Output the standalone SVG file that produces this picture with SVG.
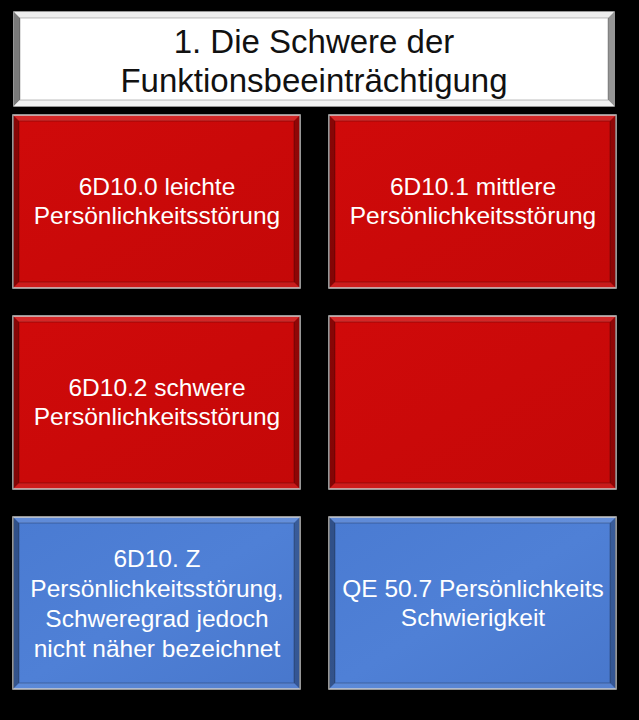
<svg xmlns="http://www.w3.org/2000/svg" width="639" height="720" viewBox="0 0 639 720">
<defs>
<linearGradient id="gRed" x1="0" y1="0" x2="1" y2="1">
<stop offset="0" stop-color="#D00A0A"/><stop offset="1" stop-color="#C40808"/>
</linearGradient>
<linearGradient id="gBlue" x1="0" y1="0" x2="1" y2="1">
<stop offset="0" stop-color="#4A7BD2"/><stop offset="0.5" stop-color="#4F80D6"/><stop offset="1" stop-color="#4877CC"/>
</linearGradient>
<style>
.outer{stroke:#C8C8C8;stroke-width:1.5}
.top{fill:#ffffff;fill-opacity:0.12}
.bot{fill:#ffffff;fill-opacity:0.08}
.lft{fill:#000000;fill-opacity:0.35}
.rgt{fill:#000000;fill-opacity:0.28}
.inner{fill:none;stroke:#000;stroke-opacity:0.25;stroke-width:1}
.t{font-family:"Liberation Sans",Arial,sans-serif;font-size:24.5px;fill:#FFFFFF;text-anchor:middle}
.tt{font-family:"Liberation Sans",Arial,sans-serif;font-size:33px;fill:#111111;text-anchor:middle}
</style>
</defs>
<rect width="639" height="720" fill="#000"/>

<g id="title">
<rect x="14" y="12" width="600" height="94" fill="#FFFFFF" class="outer"/>
<polygon points="14,12 614,12 608,18 20,18" fill="#EDEDED"/>
<polygon points="14,12 20,18 20,100 14,106" fill="#7A7A7A"/>
<polygon points="614,12 614,106 608,100 608,18" fill="#959595"/>
<polygon points="14,106 20,100 608,100 614,106" fill="#F2F2F2"/>
<rect x="20" y="18" width="588" height="82" class="inner" stroke="#999"/>
<text class="tt" x="314" y="53">1. Die Schwere der</text>
<text class="tt" x="314" y="92">Funktionsbeeinträchtigung</text>
</g>

<g id="n1">
<rect x="13" y="115" width="287" height="173" fill="url(#gRed)" class="outer"/>
<polygon points="13,115 300,115 294,121 19,121" class="top"/>
<polygon points="13,115 19,121 19,282 13,288" class="lft"/>
<polygon points="300,115 300,288 294,282 294,121" class="rgt"/>
<polygon points="13,288 19,282 294,282 300,288" class="bot"/>
<rect x="19" y="121" width="275" height="161" class="inner"/>
<text class="t" x="157" y="195">6D10.0 leichte</text>
<text class="t" x="157" y="224">Persönlichkeitsstörung</text>
</g>

<g id="n2">
<rect x="329" y="115" width="287" height="173" fill="url(#gRed)" class="outer"/>
<polygon points="329,115 616,115 610,121 335,121" class="top"/>
<polygon points="329,115 335,121 335,282 329,288" class="lft"/>
<polygon points="616,115 616,288 610,282 610,121" class="rgt"/>
<polygon points="329,288 335,282 610,282 616,288" class="bot"/>
<rect x="335" y="121" width="275" height="161" class="inner"/>
<text class="t" x="473" y="195">6D10.1 mittlere</text>
<text class="t" x="473" y="224">Persönlichkeitsstörung</text>
</g>

<g id="n3">
<rect x="13" y="316" width="287" height="173" fill="url(#gRed)" class="outer"/>
<polygon points="13,316 300,316 294,322 19,322" class="top"/>
<polygon points="13,316 19,322 19,483 13,489" class="lft"/>
<polygon points="300,316 300,489 294,483 294,322" class="rgt"/>
<polygon points="13,489 19,483 294,483 300,489" class="bot"/>
<rect x="19" y="322" width="275" height="161" class="inner"/>
<text class="t" x="157" y="396">6D10.2 schwere</text>
<text class="t" x="157" y="425">Persönlichkeitsstörung</text>
</g>

<g id="n4">
<rect x="329" y="316" width="287" height="173" fill="url(#gRed)" class="outer"/>
<polygon points="329,316 616,316 610,322 335,322" class="top"/>
<polygon points="329,316 335,322 335,483 329,489" class="lft"/>
<polygon points="616,316 616,489 610,483 610,322" class="rgt"/>
<polygon points="329,489 335,483 610,483 616,489" class="bot"/>
<rect x="335" y="322" width="275" height="161" class="inner"/>
</g>

<g id="n5">
<rect x="13" y="517" width="287" height="172" fill="url(#gBlue)" class="outer"/>
<polygon points="13,517 300,517 294,523 19,523" class="top"/>
<polygon points="13,517 19,523 19,683 13,689" class="lft"/>
<polygon points="300,517 300,689 294,683 294,523" class="rgt"/>
<polygon points="13,689 19,683 294,683 300,689" class="bot"/>
<rect x="19" y="523" width="275" height="160" class="inner"/>
<text class="t" x="157" y="567">6D10. Z</text>
<text class="t" x="157" y="597">Persönlichkeitsstörung,</text>
<text class="t" x="157" y="627">Schweregrad jedoch</text>
<text class="t" x="157" y="657">nicht näher bezeichnet</text>
</g>

<g id="n6">
<rect x="329" y="517" width="287" height="172" fill="url(#gBlue)" class="outer"/>
<polygon points="329,517 616,517 610,523 335,523" class="top"/>
<polygon points="329,517 335,523 335,683 329,689" class="lft"/>
<polygon points="616,517 616,689 610,683 610,523" class="rgt"/>
<polygon points="329,689 335,683 610,683 616,689" class="bot"/>
<rect x="335" y="523" width="275" height="160" class="inner"/>
<text class="t" x="473" y="597">QE 50.7 Persönlichkeits</text>
<text class="t" x="473" y="626">Schwierigkeit</text>
</g>

<g id="connectors"/>
</svg>
